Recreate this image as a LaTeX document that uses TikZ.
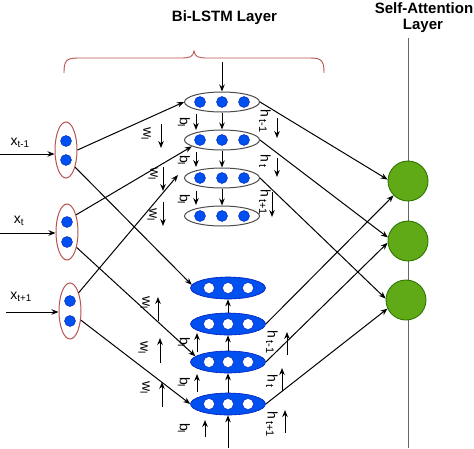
\documentclass[tikz,border=0pt]{standalone}
\usepackage{fontspec}
\setmainfont{Liberation Sans}
\usetikzlibrary{arrows.meta,shapes.geometric}
\definecolor{blueA}{HTML}{0050EF}
\definecolor{blueD}{HTML}{001DBC}
\definecolor{redA}{HTML}{B85450}
\definecolor{greenA}{HTML}{60A917}
\definecolor{greenD}{HTML}{2D7600}
\newcommand{\hsub}[1]{h\,{\fontsize{11}{11}\selectfont\raisebox{-1.5pt}{#1}}}
\newcommand{\lsub}[1]{#1{\fontsize{10}{10}\selectfont\raisebox{-2pt}{l}}}
\begin{document}
\begin{tikzpicture}[x=1pt,y=-1pt,
  arr/.style={-{Stealth[length=7pt,width=5.5pt]}, line width=1pt},
  fwd/.style={ellipse, draw=black!70, fill=white, minimum width=75pt, minimum height=20pt, inner sep=0pt, line width=1pt},
  bwd/.style={ellipse, draw=blueD, fill=blueA, minimum width=75pt, minimum height=22pt, inner sep=0pt, line width=0.6pt},
  inp/.style={ellipse, draw=redA, fill=white, minimum width=22pt, minimum height=56pt, inner sep=0pt, line width=1pt},
  dotb/.style={circle, fill=blueA, draw=blueD, minimum size=11pt, inner sep=0pt, line width=0.4pt},
  dotw/.style={circle, fill=white, draw=blueD, minimum size=11pt, inner sep=0pt, line width=0.4pt},
  att/.style={circle, fill=greenA, draw=greenD, minimum size=40pt, inner sep=0pt, line width=0.9pt},
  lbl/.style={rotate=-90, font=\fontsize{14}{14}\selectfont, inner sep=0pt},
  ttl/.style={font=\bfseries\fontsize{15}{15}\selectfont, inner sep=0pt, anchor=base},
  xl/.style={font=\fontsize{14}{14}\selectfont, inner sep=0pt}
]
\useasboundingbox (0,0) rectangle (474,448);

% titles
\node[ttl] (t1) at (224.5,21) {Bi-LSTM Layer};
\node[ttl] (sa1) at (424,13) {Self-Attention};
\node[ttl] (sa2) at (423,29) {Layer};

% brace
\draw[redA, line width=0.9pt]
  (64,73) .. controls (64,61) and (66,58) .. (78,58) -- (180,58)
  .. controls (190,58) and (193,57) .. (194,51)
  .. controls (195,57) and (198,58) .. (208,58) -- (310,58)
  .. controls (322,58) and (324,61) .. (324,73);

% attention layer line and nodes
\coordinate (vt) at (408,38);
\coordinate (vb) at (408,448);
\draw[black!60, line width=1pt] (vt) -- (vb);
\node[att] (g1) at (408,181) {};
\node[att] (g2) at (408,241) {};
\node[att] (g3) at (406,300) {};

% forward ellipses
\foreach \i/\y in {1/102,2/140,3/178,4/216}{
  \node[fwd] (f\i) at (222,\y) {};
  \foreach \j/\x in {a/200,b/222,c/244}
    \node[dotb] (f\i\j) at (\x,\y) {};
}
% backward ellipses
\foreach \i/\y in {1/288,2/324,3/362,4/404}{
  \node[bwd] (b\i) at (228,\y) {};
  \foreach \j/\x in {a/209,b/228,c/248}
    \node[dotw] (b\i\j) at (\x,\y) {};
}
% input ellipses
\node[inp] (in1) at (66,150) {};
\node[dotb] (in1a) at (66,141) {};
\node[dotb] (in1b) at (66,160) {};
\node[inp] (in2) at (67,232) {};
\node[dotb] (in2a) at (67,222) {};
\node[dotb] (in2b) at (67,242) {};
\node[inp] (in3) at (70,311) {};
\node[dotb] (in3a) at (70,301) {};
\node[dotb] (in3b) at (70,321) {};

% input labels and arrows
\node[xl] (lx1) at (20,143) {x\textsubscript{t-1}};
\node[xl] (lx2) at (19,221) {x\textsubscript{t}};
\node[xl] (lx3) at (21,297) {x\textsubscript{t+1}};
\coordinate (s1) at (0,154);
\coordinate (s2) at (0,233);
\coordinate (s3) at (6,312);
\draw[arr] (s1) -- (s1 -| in1.west);
\draw[arr] (s2) -- (s2 -| in2.west);
\draw[arr] (s3) -- (s3 -| in3.west);

% input to forward
\draw[arr] (in1.east) -- (f1.west);
\draw[arr] (in2.62) -- (f2.192);
\draw[arr] ([yshift=-1pt]in3.66) -- ([xshift=-6pt,yshift=3pt]f3.west);
% input to backward
\draw[arr] (in1.-62) -- (b1.175);
\draw[arr] (in2.-58) -- (b3.170);
\draw[arr] (in3.-40) -- (b4.west);

% forward chain
\coordinate (ft) at (222,62);
\draw[arr] (ft) -- (f1.north);
\draw[arr] (f1.south) -- (f2.north);
\draw[arr] (f2.south) -- (f3.north);
\draw[arr] (f3.south) -- (f4.north);
% backward chain
\coordinate (bb) at (228,448);
\draw[arr] (bb) -- (b4.south);
\draw[arr] (b4.north) -- (b3.south);
\draw[arr] (b3.north) -- (b2.south);
\draw[arr] (b2.north) -- (b1.south);

% outputs to attention
\draw[arr] (f1.east) -- (g1.176);
\draw[arr] (f2.east) -- (g2.170);
\draw[arr] (f3.east) -- (g3.176);
\draw[arr] (b2.east) -- (g1.-135);
\draw[arr] (b3.east) -- (g2.185);
\draw[arr] (b4.east) -- (g3.205);

% forward labels
\node[lbl] (bf1) at (184,122) {\lsub{b}};
\node[lbl] (bf2) at (184,160) {\lsub{b}};
\node[lbl] (bf3) at (184,199) {\lsub{b}};
\coordinate (bf1a) at (196,114); \coordinate (bf1b) at (196,130);
\coordinate (bf2a) at (196,152); \coordinate (bf2b) at (196,167);
\coordinate (bf3a) at (196,191); \coordinate (bf3b) at (196,205);
\draw[arr] (bf1a) -- (bf1b);
\draw[arr] (bf2a) -- (bf2b);
\draw[arr] (bf3a) -- (bf3b);

\node[lbl] (wf1) at (146,134) {\lsub{w}};
\node[lbl] (wf2) at (153,174) {\lsub{w}};
\node[lbl] (wf3) at (152,215) {\lsub{w}};
\coordinate (wf1a) at (161,124); \coordinate (wf1b) at (161,148);
\coordinate (wf2a) at (163,167); \coordinate (wf2b) at (163,191);
\coordinate (wf3a) at (163,202); \coordinate (wf3b) at (163,226);
\draw[arr] (wf1a) -- (wf1b);
\draw[arr] (wf2a) -- (wf2b);
\draw[arr] (wf3a) -- (wf3b);

\node[lbl] (hf1) at (265,121) {\hsub{t-1}};
\node[lbl] (hf2) at (265,161) {\hsub{t}};
\node[lbl] (hf3) at (265,202) {\hsub{t+1}};
\coordinate (hf1a) at (277,118); \coordinate (hf1b) at (277,138);
\coordinate (hf2a) at (277,158); \coordinate (hf2b) at (277,177);
\coordinate (hf3a) at (272,192); \coordinate (hf3b) at (272,217);
\draw[arr] (hf1a) -- (hf1b);
\draw[arr] (hf2a) -- (hf2b);
\draw[arr] (hf3a) -- (hf3b);

% backward labels
\node[lbl] (wb1) at (145,303) {\lsub{w}};
\node[lbl] (wb2) at (143,348) {\lsub{w}};
\node[lbl] (wb3) at (145,388) {\lsub{w}};
\coordinate (wb1a) at (158,321); \coordinate (wb1b) at (158,297);
\coordinate (wb2a) at (160,363); \coordinate (wb2b) at (160,338);
\coordinate (wb3a) at (162,407); \coordinate (wb3b) at (162,382);
\draw[arr] (wb1a) -- (wb1b);
\draw[arr] (wb2a) -- (wb2b);
\draw[arr] (wb3a) -- (wb3b);

\node[lbl] (bb1) at (184,342) {\lsub{b}};
\node[lbl] (bb2) at (184,382) {\lsub{b}};
\node[lbl] (bb3) at (184,428) {\lsub{b}};
\coordinate (bb1a) at (197,352); \coordinate (bb1b) at (197,333);
\coordinate (bb2a) at (197,392); \coordinate (bb2b) at (197,374);
\coordinate (bb3a) at (205,437); \coordinate (bb3b) at (205,420);
\draw[arr] (bb1a) -- (bb1b);
\draw[arr] (bb2a) -- (bb2b);
\draw[arr] (bb3a) -- (bb3b);

\node[lbl] (hb1) at (272,342) {\hsub{t-1}};
\node[lbl] (hb2) at (272,381) {\hsub{t}};
\node[lbl] (hb3) at (272,424) {\hsub{t+1}};
\coordinate (hb1a) at (287,355); \coordinate (hb1b) at (287,332);
\coordinate (hb2a) at (282,391); \coordinate (hb2b) at (282,368);
\coordinate (hb3a) at (285,433); \coordinate (hb3b) at (285,410);
\draw[arr] (hb1a) -- (hb1b);
\draw[arr] (hb2a) -- (hb2b);
\draw[arr] (hb3a) -- (hb3b);
\end{tikzpicture}
\end{document}
